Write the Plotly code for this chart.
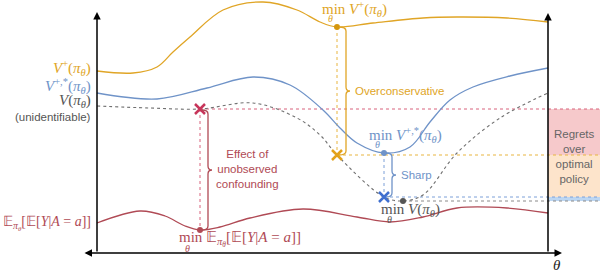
import plotly.graph_objects as go

# ---- data (theta = policy parameter, value = policy value; arbitrary units)
theta_vplus = [0, 36, 60, 76, 93, 126, 166, 200, 223, 240, 276, 326, 360, 410, 451]
vplus = [182, 180, 186, 201, 216, 243, 251, 243, 231, 226, 230, 235, 236, 235, 231]

theta_vsharp = [0, 60, 110, 156, 193, 226, 243, 260, 287, 313, 333, 353, 376, 413, 451]
vsharp = [160, 154, 165, 176, 168, 143, 125, 110, 100, 106, 131, 153, 166, 177, 185]

theta_vtrue = [0, 53, 103, 156, 200, 223, 240, 287, 306, 326, 360, 403, 451]
vtrue = [147, 145, 144, 150, 135, 118, 98, 56, 52, 58, 100, 135, 160]

theta_obs = [0, 43, 68, 88, 103, 123, 153, 206, 260, 293, 326, 360, 410, 451]
vobs = [30, 42, 37, 27, 23, 26, 35, 44, 36, 31, 36, 45, 45, 40]

# minimisers and values
argmin_obs, min_obs, vtrue_at_obs = 103, 23, 144
argmin_vplus, min_vplus, vtrue_at_vplus = 240, 226, 98
argmin_vsharp, min_vsharp, vtrue_at_vsharp = 287, 100, 56
argmin_vtrue, min_vtrue = 306, 52

THETA_MAX = 451
X_RANGE = [-97, 503]
Y_RANGE = [-20, 253]

# ---- colours
YEL = "#E0A526"
YEL_X = "#E3A21A"
BLU = "#6F93C8"
BLU_X = "#3F6FCF"
RED = "#B04A55"
RED_X = "#C7355A"
RED_DOT = "#D8627C"
SERIF = "Liberation Serif"
SANS = "Liberation Sans"

fig = go.Figure()

# shaded regret bands
bands = [
    (vtrue_at_vplus, vtrue_at_obs, "#F6C9CB"),
    (vtrue_at_vsharp, vtrue_at_vplus, "#FDE4CB"),
    (min_vtrue, vtrue_at_vsharp, "#BCD6F2"),
]
for lo, hi, col in bands:
    fig.add_shape(type="rect", x0=THETA_MAX, x1=X_RANGE[1], y0=lo, y1=hi,
                  fillcolor=col, line_width=0, layer="below")

def hline(x0, y, col):
    fig.add_trace(go.Scatter(x=[x0, X_RANGE[1]], y=[y, y], mode="lines",
                             line=dict(color=col, width=1, dash="dot"), hoverinfo="skip"))

def vline(x, y0, y1, col):
    fig.add_trace(go.Scatter(x=[x, x], y=[y0, y1], mode="lines",
                             line=dict(color=col, width=1, dash="dot"), hoverinfo="skip"))

hline(argmin_obs, vtrue_at_obs, RED_DOT)
hline(argmin_vplus, vtrue_at_vplus, "#E8B540")
hline(argmin_vsharp, vtrue_at_vsharp, "#7DA0D8")
hline(argmin_vtrue, min_vtrue, "#8a8a8a")
vline(argmin_obs, vtrue_at_obs, min_obs, RED_DOT)
vline(argmin_vplus, min_vplus, vtrue_at_vplus, "#E8B540")
vline(argmin_vsharp, min_vsharp, vtrue_at_vsharp, "#7DA0D8")

# curves
fig.add_trace(go.Scatter(x=theta_vplus, y=vplus, mode="lines", line=dict(color=YEL, width=1.3, shape="spline")))
fig.add_trace(go.Scatter(x=theta_vsharp, y=vsharp, mode="lines", line=dict(color=BLU, width=1.3, shape="spline")))
fig.add_trace(go.Scatter(x=theta_vtrue, y=vtrue, mode="lines", line=dict(color="#707070", width=1.1, shape="spline", dash="3px,3px")))
fig.add_trace(go.Scatter(x=theta_obs, y=vobs, mode="lines", line=dict(color=RED, width=1.3, shape="spline")))

# points
fig.add_trace(go.Scatter(x=[argmin_obs, argmin_vplus, argmin_vsharp, argmin_vtrue],
                         y=[min_obs, min_vplus, min_vsharp, min_vtrue], mode="markers",
                         marker=dict(size=6, color=[RED, "#D4960E", BLU, "#555555"])))
fig.add_trace(go.Scatter(x=[argmin_obs, argmin_vplus, argmin_vsharp],
                         y=[vtrue_at_obs, vtrue_at_vplus, vtrue_at_vsharp], mode="markers",
                         marker=dict(symbol="x-thin", size=10,
                                     line=dict(width=2.5, color=[RED_X, YEL_X, BLU_X]))))

# braces
def brace(x, top, bot, col, off=8, w=4, r=4):
    xb = x + off
    mid = (top + bot) / 2
    x0 = x + 2
    path = (f"M {x0},{top} Q {xb},{top} {xb},{top - r} L {xb},{mid + r} "
            f"Q {xb},{mid} {xb + w},{mid} Q {xb},{mid} {xb},{mid - r} "
            f"L {xb},{bot + r} Q {xb},{bot} {x0},{bot}")
    fig.add_shape(type="path", path=path, line=dict(color=col, width=1.3))
    return xb + w, mid

bx, bm = brace(argmin_obs, vtrue_at_obs - 1, min_obs, RED)
yx, ym = brace(argmin_vplus, min_vplus, vtrue_at_vplus, YEL, off=9)
sx, sm = brace(argmin_vsharp, min_vsharp, vtrue_at_vsharp, BLU)

ann = []
def txt(x, y, t, col, size=11.5, fam=SANS, xa="center", ya="middle"):
    ann.append(dict(x=x, y=y, text=t, showarrow=False, xanchor=xa, yanchor=ya,
                    font=dict(family=fam, size=size, color=col)))

txt(150, 84, "Effect of<br>unobserved<br>confounding", RED)
txt(yx + 3, ym, "Overconservative", YEL, xa="left")
txt(sx + 3, sm, "Sharp", BLU, xa="left")
txt(477, 97, "Regrets<br>over<br>optimal<br>policy", "#666666")

# left labels
txt(-4, 185, "<i>V</i><sup>+</sup>(<i>π</i><sub><i>θ</i></sub>)", YEL, size=15, fam=SERIF, xa="right")
txt(-4, 167, "<i>V</i><sup>+,*</sup>(<i>π</i><sub><i>θ</i></sub>)", BLU, size=15, fam=SERIF, xa="right")
txt(-4, 152, "<i>V</i>(<i>π</i><sub><i>θ</i></sub>)", "#555555", size=15, fam=SERIF, xa="right")
txt(-4, 136, "(unidentifiable)", "#555555", size=11.5, xa="right")
txt(-4, 30, "𝔼<sub><i>π<sub>θ</sub></i></sub>[𝔼[<i>Y</i>|<i>A</i> = <i>a</i>]]", RED, size=14, fam=SERIF, xa="right")

# min labels
def minlabel(x, y, t, col):
    txt(x, y, "min " + t, col, size=15, fam=SERIF, xa="left")
    txt(x + 10, y - 9, "<i>θ</i>", col, size=10, fam=SERIF)

minlabel(argmin_vplus - 17, 244, "<i>V</i><sup>+</sup>(<i>π</i><sub><i>θ</i></sub>)", YEL)
minlabel(argmin_vsharp - 17, 118, "<i>V</i><sup>+,*</sup>(<i>π</i><sub><i>θ</i></sub>)", BLU)
minlabel(argmin_vtrue - 24, 43, "<i>V</i>(<i>π</i><sub><i>θ</i></sub>)", "#555555")
minlabel(argmin_obs - 23, 14, "𝔼<sub><i>π<sub>θ</sub></i></sub>[𝔼[<i>Y</i>|<i>A</i> = <i>a</i>]]", RED)

# axes with arrows
def arrow(x0, y0, x1, y1, side="end"):
    ann.append(dict(x=x1, y=y1, ax=x0, ay=y0, xref="x", yref="y", axref="x", ayref="y",
                    showarrow=True, arrowhead=2, arrowsize=1, arrowwidth=1.5,
                    arrowcolor="black", arrowside=side, text=""))

arrow(0, 0, 0, 241)
arrow(THETA_MAX, 0, THETA_MAX, 240)
arrow(-14, 0, 465, 0, side="end+start")
txt(460, -12, "<i>θ</i>", "#222222", size=15, fam=SERIF)

fig.update_layout(
    width=600, height=273, margin=dict(l=0, r=0, t=0, b=0),
    paper_bgcolor="white", plot_bgcolor="white", showlegend=False,
    xaxis=dict(range=X_RANGE, visible=False, fixedrange=True),
    yaxis=dict(range=Y_RANGE, visible=False, fixedrange=True),
    annotations=ann,
)

fig.write_html("out.html", config={"displayModeBar": False},
               post_script="document.body.style.margin='0px';document.body.style.overflow='hidden';")
